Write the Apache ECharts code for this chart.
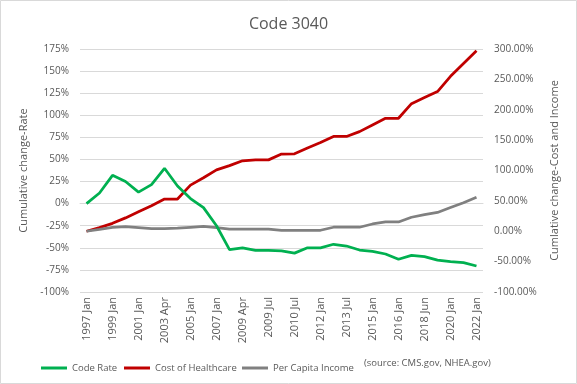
<!DOCTYPE html>
<html>
<head>
<meta charset="utf-8">
<script src="https://cdn.jsdelivr.net/npm/echarts@6/dist/echarts.min.js"></script>
<style>
html,body{margin:0;padding:0;background:#fff;}
#chart{width:577px;height:384px;}
</style>
</head>
<body>
<div id="chart"></div>
<script>
var categories = ['1997 Jan','1998 Jan','1999 Jan','2000 Jan','2001 Jan','2002 Jan','2003 Apr','2004 Jan','2005 Jan','2006 Jan','2007 Jan','2008 Jan','2009 Apr','2009 May','2009 Jul','2010 Jan','2010 Jul','2011 Jul','2012 Jan','2012 Jul','2013 Jul','2014 Jul','2015 Jan','2015 Jul','2016 Jan','2017 Jan','2018 Jun','2019 Jan','2020 Jan','2021 Jan','2022 Jan'];
var codeRate = [0, 12, 32, 25, 13, 21.5, 40, 20, 5.7, -4.5, -25, -52, -50, -53, -53, -53.5, -56, -50, -50, -46, -48, -52.5, -54, -57, -63, -58.5, -60, -64, -65.6, -66.7, -70.6];
var costHealthcare = [0, 6, 13, 22, 32, 42, 53, 53, 76, 88, 101, 108, 116, 117.5, 117.5, 127, 127.4, 137, 146, 156, 156, 164, 175, 186, 186, 210, 220, 230, 255, 276, 297];
var perCapitaIncome = [0, 3, 6.5, 7.6, 6, 4.3, 4.3, 5, 6.5, 8, 6, 3.5, 3.5, 3.5, 3.5, 1.6, 1.6, 1.6, 1.6, 6.6, 6.6, 6.6, 12, 15.3, 15.3, 23, 27.4, 31, 39, 47, 56];
var seriesNames = ['Code Rate', 'Cost of Healthcare', 'Per Capita Income'];
var title = 'Code 3040';
var leftAxisName = 'Cumulative change-Rate';
var rightAxisName = 'Cumlative change-Cost and Income';
var sourceNote = '(source: CMS.gov, NHEA.gov)';

var FONT = 'Open Sans';
var TXT = '#595959';
function legendAt(name, x) {
  return {
    left: x, top: 358,
    itemWidth: 26, itemHeight: 3, icon: 'rect',
    textStyle: {fontFamily: FONT, fontSize: 9.5, color: TXT},
    data: [name]
  };
}
var chart = echarts.init(document.getElementById('chart'), null, {renderer: 'canvas'});
chart.setOption({
  animation: false,
  backgroundColor: '#fff',
  textStyle: {fontFamily: FONT, color: TXT},
  title: {
    text: title, left: 'center', top: 11,
    textStyle: {fontFamily: FONT, fontSize: 16, fontWeight: 'normal', color: TXT}
  },
  graphic: [
    {type: 'rect', shape: {x: 0.5, y: 0.5, width: 576, height: 383}, style: {fill: null, stroke: '#d9d9d9', lineWidth: 1}, silent: true},
    {type: 'text', left: 364, top: 358, style: {text: sourceNote, font: '9.5px "Open Sans"', fill: TXT}}
  ],
  legend: [legendAt(seriesNames[0], 36), legendAt(seriesNames[1], 119), legendAt(seriesNames[2], 237)],
  grid: {left: 80, right: 94, top: 49, bottom: 92},
  xAxis: {
    type: 'category', data: categories, boundaryGap: true,
    axisLine: {show: true, lineStyle: {color: '#d9d9d9'}},
    axisTick: {show: false},
    axisLabel: {rotate: 90, interval: 1, fontSize: 11, color: TXT, fontFamily: FONT, margin: 5}
  },
  yAxis: [
    {
      type: 'value', min: -100, max: 175, interval: 25,
      name: leftAxisName, nameLocation: 'middle', nameGap: 42, nameRotate: 90,
      nameTextStyle: {fontSize: 11, color: TXT, fontFamily: FONT},
      axisLine: {show: false}, axisTick: {show: false},
      axisLabel: {formatter: '{value}%', fontSize: 10, color: TXT, fontFamily: FONT, margin: 11},
      splitLine: {lineStyle: {color: '#d9d9d9'}}
    },
    {
      type: 'value', min: -100, max: 300, interval: 50, position: 'right',
      name: rightAxisName, nameLocation: 'middle', nameGap: 66, nameRotate: 90,
      nameTextStyle: {fontSize: 11, color: TXT, fontFamily: FONT},
      axisLine: {show: false}, axisTick: {show: false},
      axisLabel: {formatter: function (v) { return v.toFixed(2) + '%'; }, fontSize: 10, color: TXT, fontFamily: FONT, margin: 11},
      splitLine: {show: false}
    }
  ],
  series: [
    {name: seriesNames[1], type: 'line', yAxisIndex: 1, data: costHealthcare, symbol: 'none', color: '#C00000', lineStyle: {width: 2.75, color: '#C00000'}},
    {name: seriesNames[2], type: 'line', yAxisIndex: 1, data: perCapitaIncome, symbol: 'none', color: '#808080', lineStyle: {width: 2.75, color: '#808080'}},
    {name: seriesNames[0], type: 'line', yAxisIndex: 0, data: codeRate, symbol: 'none', color: '#00B050', lineStyle: {width: 2.75, color: '#00B050'}}
  ]
});
</script>
</body>
</html>
